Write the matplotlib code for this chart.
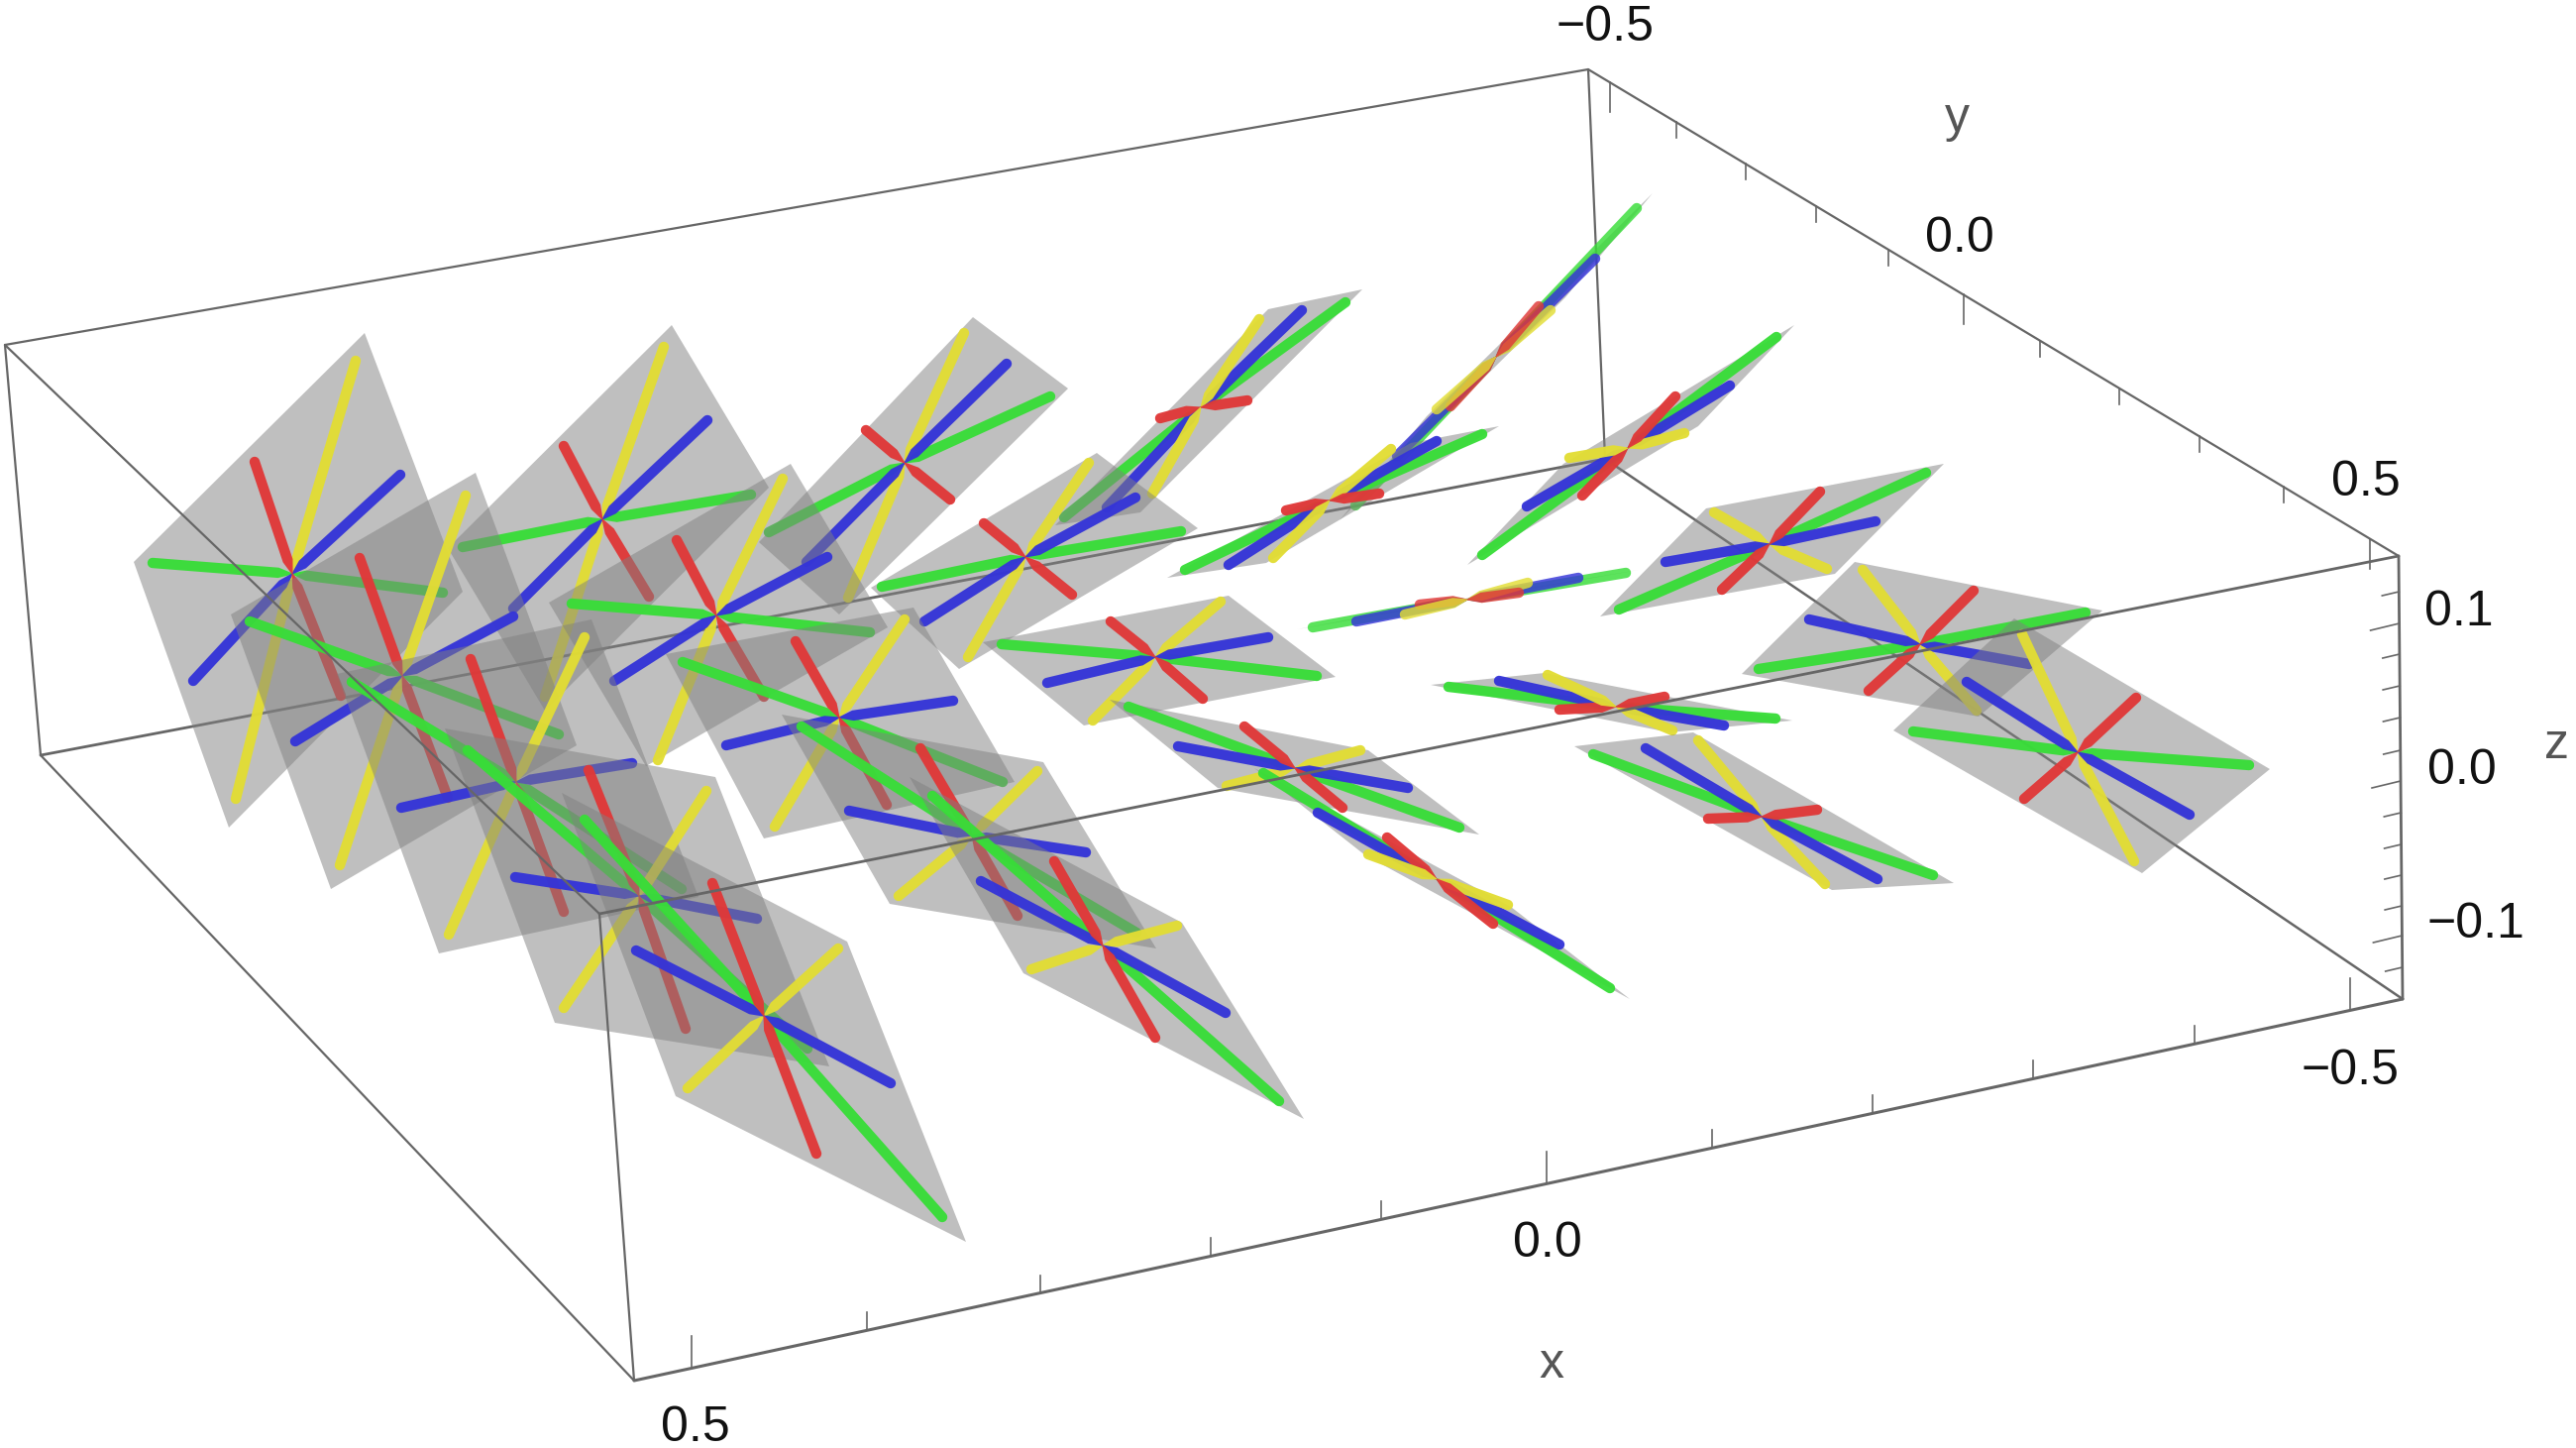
import numpy as np
import matplotlib
matplotlib.use('Agg')
import matplotlib.pyplot as plt
from matplotlib.patches import Polygon

### all positions, one row per small plane
### order: back row first, so the later planes cover the earlier ones
centers = [
    [295, 579], [608, 524], [913, 467], [1212, 411], [1510, 360],
    [406, 682], [723, 621], [1035, 562], [1342, 505], [1643, 452],
    [521, 789], [847, 724], [1166, 663], [1481, 605], [1786, 549],
    [645, 904], [981, 843], [1307, 775], [1631, 713], [1938, 650],
    [771, 1025], [1113, 954], [1450, 887], [1778, 824], [2097, 759],
]
green = [
    [154, 568, 447, 598], [467, 552, 758, 499], [776, 537, 1060, 400], [1074, 522, 1358, 305], [1368, 510, 1652, 210],
    [252, 627, 564, 741], [577, 609, 878, 638], [890, 592, 1192, 536], [1196, 575, 1496, 438], [1496, 560, 1793, 340],
    [355, 688, 688, 897], [689, 668, 1012, 789], [1011, 650, 1329, 682], [1325, 633, 1641, 578], [1634, 615, 1944, 477],
    [472, 757, 815, 1058], [809, 733, 1147, 941], [1139, 713, 1473, 835], [1462, 693, 1792, 725], [1775, 675, 2105, 618],
    [590, 827, 951, 1228], [941, 803, 1291, 1111], [1275, 780, 1625, 997], [1608, 761, 1951, 883], [1931, 738, 2270, 772],
]
blue = [
    [404, 479, 195, 687], [714, 424, 518, 614], [1016, 367, 814, 567], [1314, 313, 1117, 512], [1610, 261, 1410, 460],
    [518, 622, 298, 748], [835, 562, 620, 687], [1146, 502, 933, 627], [1450, 445, 1240, 570], [1746, 389, 1541, 511],
    [638, 770, 405, 815], [962, 707, 733, 752], [1280, 643, 1057, 689], [1593, 583, 1369, 627], [1893, 526, 1681, 567],
    [520, 885, 764, 927], [857, 818, 1096, 860], [1189, 753, 1421, 795], [1513, 687, 1740, 732], [1826, 625, 2048, 670],
    [642, 959, 899, 1093], [990, 889, 1237, 1022], [1330, 820, 1574, 953], [1661, 755, 1895, 887], [1985, 688, 2210, 822],
]
red = [
    [257, 466, 344, 702], [569, 450, 655, 602], [874, 434, 959, 504], [1171, 422, 1259, 404], [1553, 309, 1464, 410],
    [363, 563, 452, 805], [683, 545, 771, 703], [993, 528, 1082, 600], [1298, 515, 1392, 498], [1691, 400, 1597, 500],
    [475, 665, 569, 920], [803, 647, 895, 812], [1121, 627, 1214, 705], [1433, 610, 1533, 598], [1837, 496, 1738, 595],
    [594, 777, 692, 1038], [929, 755, 1027, 924], [1256, 733, 1355, 815], [1574, 716, 1680, 703], [1992, 596, 1886, 697],
    [719, 891, 824, 1164], [1064, 869, 1166, 1047], [1400, 845, 1507, 932], [1724, 826, 1834, 817], [2156, 704, 2043, 806],
]
yellow = [
    [359, 364, 238, 806], [670, 350, 550, 703], [973, 336, 856, 603], [1271, 322, 1163, 498], [1565, 313, 1450, 413],
    [470, 500, 343, 873], [790, 483, 664, 767], [1099, 467, 977, 663], [1404, 453, 1285, 563], [1700, 437, 1584, 462],
    [590, 643, 453, 943], [913, 625, 782, 834], [1232, 607, 1103, 727], [1542, 588, 1418, 620], [1730, 517, 1844, 574],
    [713, 798, 569, 1017], [1047, 778, 907, 904], [1373, 757, 1238, 793], [1562, 681, 1688, 737], [1880, 575, 1995, 717],
    [846, 957, 694, 1098], [1188, 934, 1041, 978], [1381, 862, 1522, 913], [1714, 747, 1842, 892], [2041, 640, 2154, 869],
]
planes = [
    [368, 336, 135, 567, 231, 835, 467, 597], [678, 328, 452, 553, 550, 717, 776, 492],
    [982, 320, 766, 547, 847, 620, 1078, 392], [1375, 292, 1280, 312, 1065, 530, 1151, 517],
    [1668, 195, 1580, 300, 1352, 525, 1440, 420],
    [480, 477, 233, 620, 334, 897, 582, 752], [798, 468, 554, 608, 652, 773, 896, 633],
    [1107, 457, 879, 593, 968, 675, 1209, 533], [1513, 430, 1424, 447, 1178, 583, 1278, 568],
    [1811, 328, 1714, 430, 1481, 570, 1578, 468],
    [597, 625, 340, 680, 443, 962, 705, 905], [922, 613, 672, 660, 771, 846, 1024, 789],
    [1240, 601, 992, 648, 1094, 732, 1348, 683], [1654, 575, 1535, 596, 1309, 635, 1430, 612],
    [1962, 468, 1722, 513, 1615, 622, 1852, 579],
    [722, 784, 449, 735, 560, 1032, 837, 1076], [1053, 769, 789, 721, 898, 912, 1167, 957],
    [1381, 757, 1120, 706, 1229, 795, 1493, 842], [1559, 679, 1444, 691, 1685, 739, 1809, 727],
    [1872, 567, 1758, 680, 1997, 723, 2122, 616],
    [855, 950, 567, 800, 682, 1106, 975, 1253], [1193, 931, 918, 784, 1033, 982, 1316, 1129],
    [1525, 915, 1266, 775, 1378, 863, 1645, 1008], [1709, 739, 1589, 753, 1849, 898, 1972, 891],
    [2033, 624, 1911, 737, 2162, 881, 2291, 776],
]
# planes seen almost edge on, yellow and red lie on top there
thin_planes = [3, 4, 8, 9, 13, 18, 22]

### corners of the box
top_left, top_back, top_right, top_front = (5, 348), (1603, 70), (2421, 561), (605, 922)
bot_left, bot_back, bot_right, bot_front = (41, 762), (1620, 463), (2425, 1008), (640, 1393)

### ticks, major ones are longer
x_ticks = [698, 875, 1050, 1222, 1394, 1561, 1728, 1890, 2052, 2215, 2372]
x_major = [0, 5, 10]
y_ticks = [1625, 1692, 1762, 1833, 1906, 1982, 2059, 2139, 2220, 2305, 2392]
y_major = [0, 5, 10]
z_ticks = [597, 629, 660, 692, 724, 757, 788, 820, 852, 883, 914, 944, 976]
z_major = [1, 6, 11]

number_labels = ['\u22120.5', '0.0', '0.5', '0.1', '0.0', '\u22120.1', '\u22120.5', '0.0', '0.5']
number_x = [1620, 1978, 2388, 2482, 2485, 2499, 2372, 1562, 702]
number_y = [28, 241, 487, 618, 778, 933, 1081, 1255, 1441]
axis_labels = ['x', 'y', 'z']
axis_label_x = [1566, 1975, 2581]
axis_label_y = [1377, 120, 752]

GRAY = '#666666'
GREEN, BLUE, RED, YELLOW = '#38dd38', '#3434d8', '#e03838', '#e2dd34'
HALF_WIDTH = 5.2
TAPER = 14.0

fig = plt.figure(figsize=(26, 14.61), dpi=100)
ax = fig.add_axes([0, 0, 1, 1])
ax.set_xlim(0, 2600)
ax.set_ylim(1461, 0)
ax.axis('off')


def edge(a, b, lw=1.6, z=1):
    ax.plot([a[0], b[0]], [a[1], b[1]], color=GRAY, lw=lw, zorder=z, solid_capstyle='round')


### half a line: pointed at the centre, full width after a short taper, round at the far end
def half_line(c, end, color, opacity, z):
    c = np.array(c, dtype=float)
    end = np.array(end, dtype=float)
    d = (end - c) / np.hypot(*(end - c))
    n = np.array([-d[1], d[0]])
    cap = [end + HALF_WIDTH * (np.cos(t) * n + np.sin(t) * d) for t in np.linspace(0, np.pi, 11)]
    pts = [c + 0.6 * n, c + TAPER * d + HALF_WIDTH * n] + cap
    pts += [c + TAPER * d - HALF_WIDTH * n, c - 0.6 * n]
    ax.add_patch(Polygon(np.array(pts), closed=True, facecolor=color, edgecolor='none', alpha=opacity, zorder=z))


### back edges sit behind the planes
edge(bot_left, bot_back, 2.0)
edge(bot_back, bot_right, 1.8)
edge(top_back, bot_back)

### the planes and their four lines, drawn back to front
z = 2
for i in range(len(centers)):
    pts = np.array(planes[i]).reshape(-1, 2)
    ax.add_patch(Polygon(pts, closed=True, facecolor=(0.5, 0.5, 0.5, 0.5), edgecolor='none', zorder=z))
    z += 1
    halves = []
    for ends, color in [(yellow, YELLOW), (green, GREEN), (blue, BLUE), (red, RED)]:
        e = ends[i]
        halves.append(([e[0], e[1]], color))
        halves.append(([e[2], e[3]], color))
    if i in thin_planes:
        # green and blue below, then red wins on the right side and yellow on the left
        def rank(h):
            right = h[0][0] > centers[i][0]
            if h[1] == GREEN:
                return 0
            if h[1] == BLUE:
                return 1
            if h[1] == RED:
                return 3 if right else 2
            return 2 if right else 3
        halves.sort(key=rank)
    opacity = 0.82 if i in [4, 13] else 0.96
    for end, color in halves:
        half_line(centers[i], end, color, opacity, z)
        z += 1

### front edges on top
z_front = z + 1
edge(top_left, top_back, z=z_front)
edge(top_back, top_right, z=z_front)
edge(top_right, top_front, 2.0, z_front)
edge(top_front, top_left, z=z_front)
edge(bot_left, bot_front, z=z_front)
edge(bot_front, bot_right, 2.2, z_front)
edge(top_left, bot_left, z=z_front)
edge(top_right, bot_right, 2.0, z_front)
edge(top_front, bot_front, z=z_front)

for i, tx in enumerate(x_ticks):
    base = np.interp(tx, [bot_front[0], bot_right[0]], [bot_front[1], bot_right[1]])
    length = 32 if i in x_major else 18
    ax.plot([tx, tx], [base, base - length], color=GRAY, lw=1.2, zorder=z_front)

for i, tx in enumerate(y_ticks):
    base = np.interp(tx, [top_back[0], top_right[0]], [top_back[1], top_right[1]])
    length = 30 if i in y_major else 16
    ax.plot([tx, tx], [base, base + length], color=GRAY, lw=1.2, zorder=z_front)

for i, ty in enumerate(z_ticks):
    base = np.interp(ty, [top_right[1], bot_right[1]], [top_right[0], bot_right[0]])
    if i in z_major:
        ax.plot([base, base - 29], [ty, ty + 7], color=GRAY, lw=1.2, zorder=z_front)
    else:
        ax.plot([base, base - 17], [ty, ty + 4], color=GRAY, lw=1.2, zorder=z_front)

for i in range(len(number_labels)):
    ax.text(number_x[i], number_y[i], number_labels[i], fontsize=36, family='Liberation Sans',
            color='#111111', ha='center', va='center', zorder=z_front + 1)

for i in range(len(axis_labels)):
    ax.text(axis_label_x[i], axis_label_y[i], axis_labels[i], fontsize=36, family='Liberation Sans',
            color='#555555', ha='center', va='center', zorder=z_front + 1)

fig.savefig('out.png', dpi=100, facecolor='white')
